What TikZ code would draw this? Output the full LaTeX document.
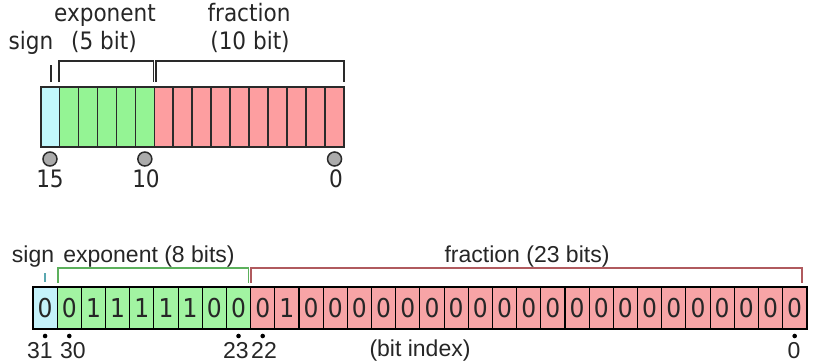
\documentclass[tikz,border=0pt]{standalone}
\usepackage{fontspec}
\setmainfont{DejaVu Sans}
\newfontfamily\condf{DejaVu Sans Condensed}
\newfontfamily\libf{Liberation Sans}
\usetikzlibrary{calc}
\definecolor{tcyan}{HTML}{C2F8FC}
\definecolor{tgreen}{HTML}{94F494}
\definecolor{tred}{HTML}{FD9EA0}
\definecolor{bcyan}{HTML}{C4F2FA}
\definecolor{bgreen}{HTML}{A2F4A2}
\definecolor{bred}{HTML}{F7A4A6}
\definecolor{tline}{HTML}{2A2A2A}
\definecolor{teal}{HTML}{5AA8B0}
\definecolor{gbr}{HTML}{5CB05C}
\definecolor{rbr}{HTML}{B05A5E}
\tikzset{
  tcell/.style={draw=tline, line width=1.6pt, minimum width=18.97pt, minimum height=60pt, inner sep=0pt, outer sep=0pt},
  bcell/.style={draw=black, line width=1.1pt, minimum width=24.18pt, minimum height=42pt, inner sep=0pt, outer sep=0pt,
     font=\condf\fontsize{26}{26}\selectfont, text=black!85},
  toplbl/.style={font=\condf\fontsize{24}{24}\selectfont, text=black!85, inner sep=0pt, anchor=base},
  botlbl/.style={font=\libf\fontsize{23}{23}\selectfont, text=black!85, inner sep=0pt, anchor=base},
  circ/.style={circle, draw=tline, line width=1.5pt, fill=black!33, minimum size=14pt, inner sep=0pt},
  bdot/.style={circle, fill=black, minimum size=4.6pt, inner sep=0pt},
  tbr/.style={draw=tline, line width=1.6pt},
}
\begin{document}
\begin{tikzpicture}[x=1pt,y=-1pt]
\useasboundingbox (0,0) rectangle (813,362);
\fill[white] (0,0) rectangle (813,362);
% ---------- top: half precision ----------
\node[toplbl] (tsign) at (31,49) {sign};
\node[toplbl] (texp) at (105,21) {exponent};
\node[toplbl] (texpb) at (104,49) {(5 bit)};
\node[toplbl] (tfrac) at (249,21) {fraction};
\node[toplbl] (tfracb) at (250,49) {(10 bit)};
\draw[tbr] (51,65) -- (51,82);
\draw[tbr] (59,82) |- (153.5,61) -- (153.5,82);
\draw[tbr] (156,82) |- (344,61) -- (344,82);
\foreach \i in {0}
  \node[tcell, fill=tcyan] (t\i) at ({40.5+18.97*(\i+0.5)},117) {};
\foreach \i in {1,...,5}
  \node[tcell, fill=tgreen] (t\i) at ({40.5+18.97*(\i+0.5)},117) {};
\foreach \i in {6,...,15}
  \node[tcell, fill=tred] (t\i) at ({40.5+18.97*(\i+0.5)},117) {};
\draw[tline, line width=2pt] (t0.north west) rectangle (t15.south east);
\node[circ] (c15) at (t0 |- 0,159) {};
\node[circ] (c10) at (t5 |- 0,159) {};
\node[circ] (c0) at (t15 |- 0,159) {};
\node[toplbl] (l15) at (50,187) {15};
\node[toplbl] (l10) at (146,187) {10};
\node[toplbl] (l0) at (336,187) {0};
% ---------- bottom: single precision ----------
\node[botlbl] (bsign) at (33,262) {sign};
\node[botlbl] (bexp) at (149,262) {exponent (8 bits)};
\node[botlbl] (bfrac) at (527,262) {fraction (23 bits)};
\draw[teal, line width=1.4pt] (45,273) -- (45,282);
\draw[gbr, line width=1.4pt] (58,283) |- (248.5,268) -- (248.5,283);
\draw[rbr, line width=1.4pt] (251,283) |- (802,268) -- (802,283);
\node[bcell, fill=bcyan] (b0) at ({33+24.18*0.5},308) {0};
\foreach \v [count=\i] in {0,1,1,1,1,1,0,0}
  \node[bcell, fill=bgreen] (b\i) at ({33+24.18*(\i+0.5)},308) {\v};
\foreach \v [count=\j] in {0,1,0,0,0,0,0,0,0,0,0,0,0,0,0,0,0,0,0,0,0,0,0}
  \pgfmathtruncatemacro\k{\j+8}
  \node[bcell, fill=bred] (b\k) at ({33+24.18*(\k+0.5)},308) {\v};
\draw[black, line width=2pt] (b0.north west) rectangle (b31.south east);
\node[bdot] (d31) at (b0 |- 0,336) {};
\node[bdot] (d30) at (b1 |- 0,336) {};
\node[bdot] (d23) at (b8 |- 0,336) {};
\node[bdot] (d22) at (b9 |- 0,336) {};
\node[bdot] (d0) at (b31 |- 0,336) {};
\node[botlbl] (n31) at (40,358) {31};
\node[botlbl] (n30) at (73,358) {30};
\node[botlbl] (n23) at (236,358) {23};
\node[botlbl] (n22) at (264,358) {22};
\node[botlbl] (nbi) at (420,356.5) {(bit index)};
\node[botlbl] (n0) at (794,358) {0};
\end{tikzpicture}
\end{document}
